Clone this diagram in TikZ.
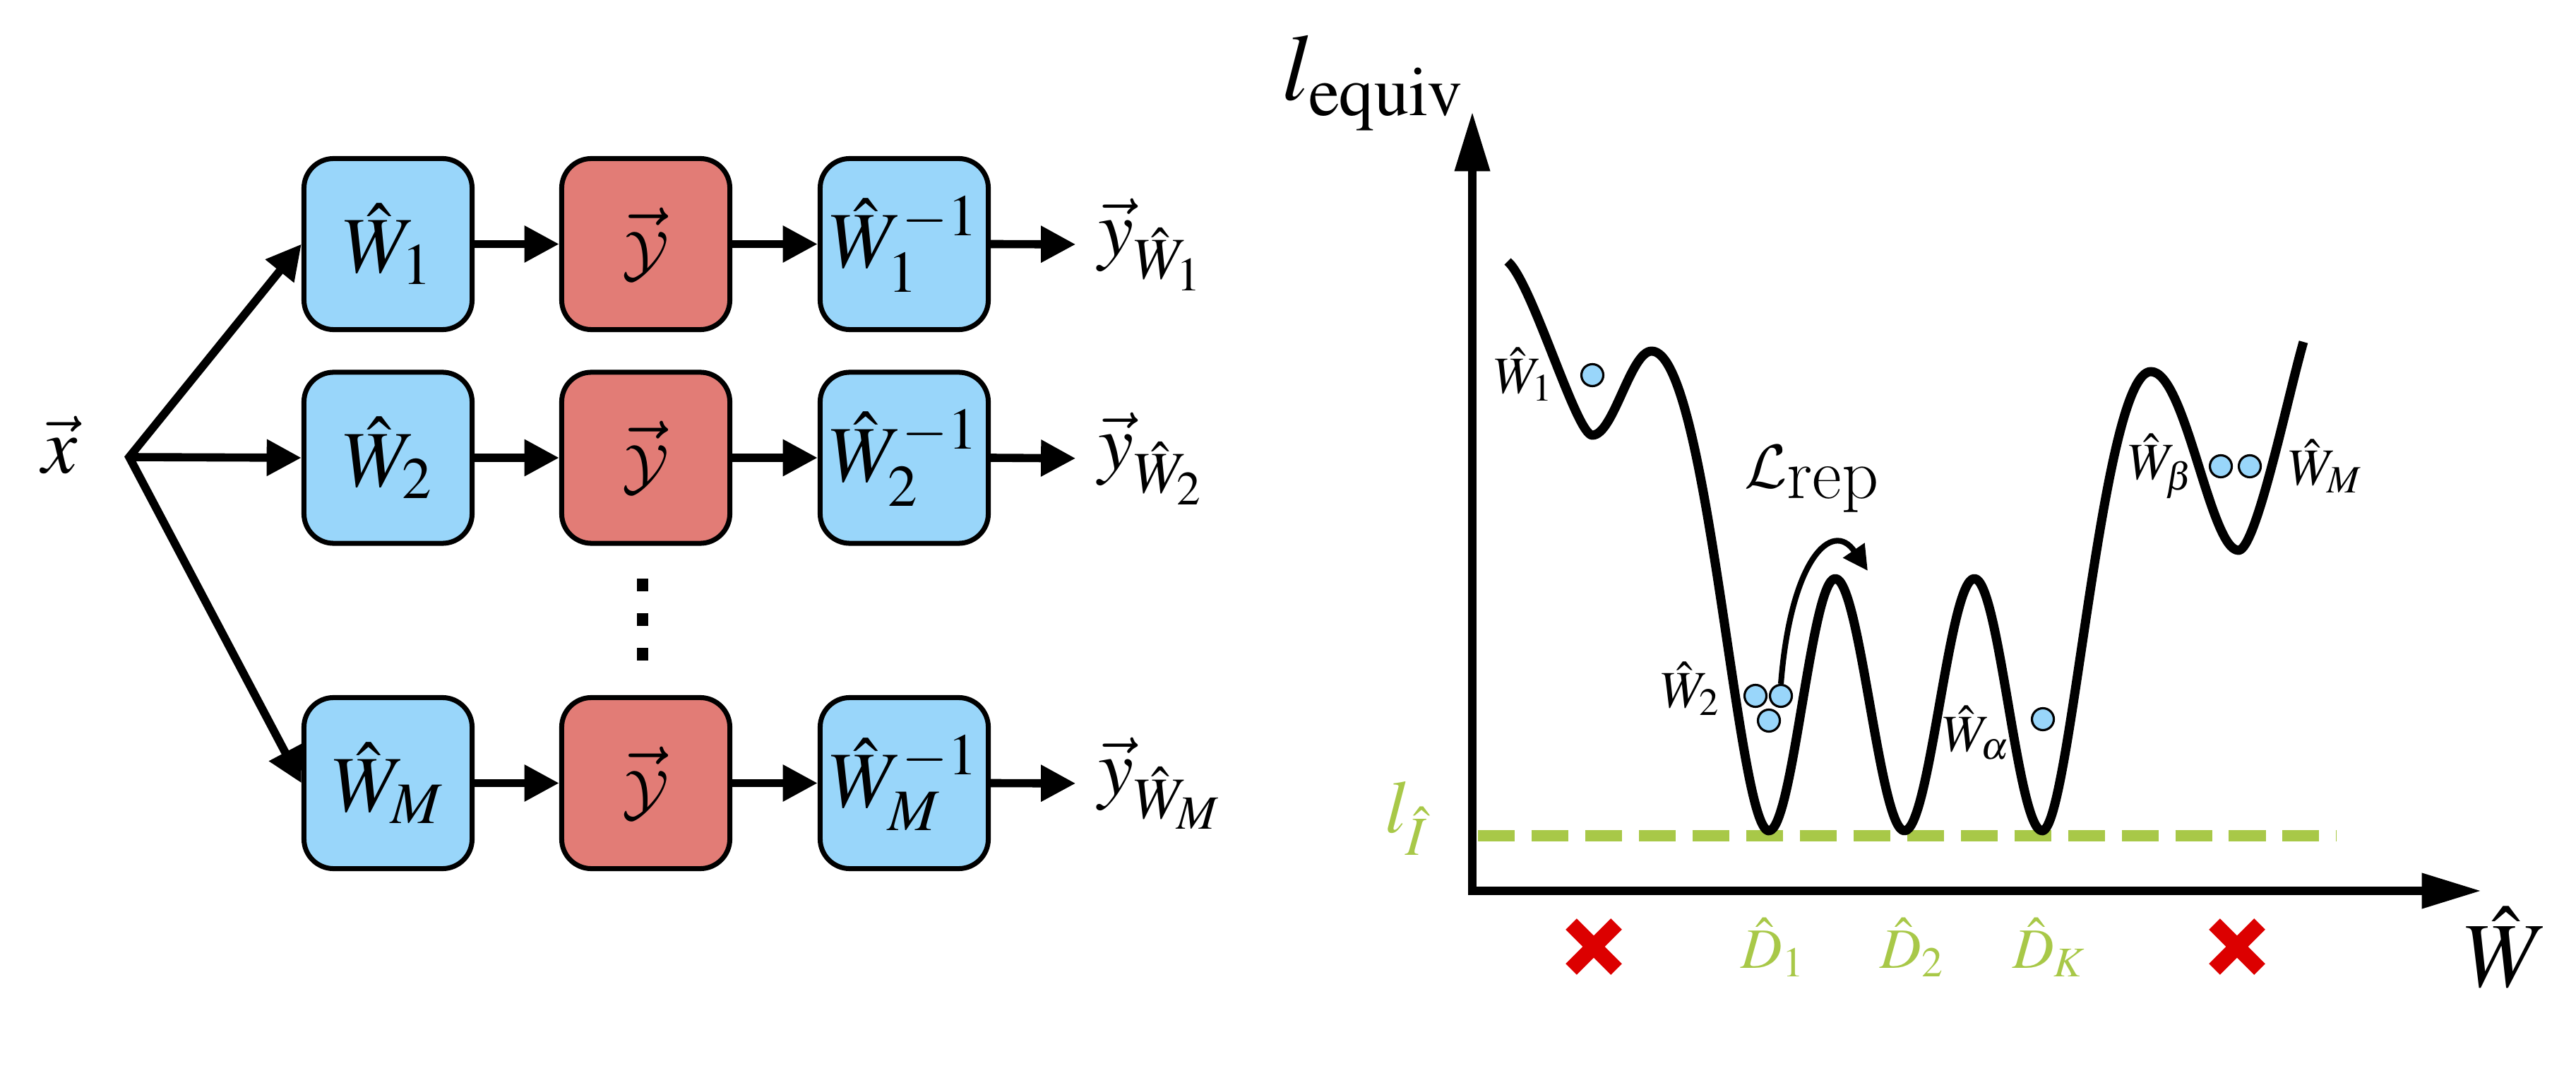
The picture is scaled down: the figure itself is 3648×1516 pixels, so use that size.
\documentclass[tikz,border=0pt]{standalone}
\usepackage{mathptmx}
\DeclareMathAlphabet{\mathcal}{OMS}{lmsy}{m}{n}
\usetikzlibrary{arrows.meta}
\definecolor{boxblue}{RGB}{153,214,250}
\definecolor{boxred}{RGB}{226,124,118}
\definecolor{lgreen}{RGB}{168,200,72}
\definecolor{xred}{RGB}{220,0,0}
\begin{document}
\begin{tikzpicture}[x=0.01cm,y=-0.01cm,
  blk/.style={draw=black, line width=2pt, rounded corners=0.42cm, minimum width=2.38cm, minimum height=2.42cm, inner sep=0pt, font=\fontsize{32}{38}\selectfont},
  bblk/.style={blk, fill=boxblue},
  rblk/.style={blk, fill=boxred, font=\fontsize{36}{42}\selectfont},
  outlbl/.style={anchor=west, inner sep=0pt, font=\fontsize{32}{38}\selectfont},
  flow/.style={line width=3.3pt, -{Triangle[length=14pt,width=14pt]}},
  axisline/.style={line width=3.4pt, line join=miter, {Triangle[length=24pt,width=13.5pt]}-{Triangle[length=24pt,width=13.5pt]}},
  ball/.style={circle, draw=black, line width=0.9pt, fill=boxblue, minimum size=0.31cm, inner sep=0pt},
  lbl/.style={inner sep=0pt, font=\fontsize{21}{25}\selectfont},
  glbl/.style={inner sep=0pt, text=lgreen, font=\fontsize{23}{27}\selectfont},
  landscape/.style={line width=3.7pt, line join=round},
  cross/.style={draw=xred, line width=6.3pt, line cap=butt},
  vdot/.style={fill=black}
]
\useasboundingbox (0,0) rectangle (3648,1516);

% ---------------- left panel ----------------
\node[bblk] (a1) at (549.5,345.5) {$\hat{W}_1$};
\node[rblk] (b1) at (914.5,345.5) {$\vec{\mathcal{Y}}$};
\node[bblk] (c1) at (1280.5,345.5) {$\hat{W}_1^{-1}$};
\node[outlbl] (o1) at (1555,346) {$\vec{y}_{\hat{W}_1}$};

\node[bblk] (a2) at (549.5,648) {$\hat{W}_2$};
\node[rblk] (b2) at (914.5,648) {$\vec{\mathcal{Y}}$};
\node[bblk] (c2) at (1280.5,648) {$\hat{W}_2^{-1}$};
\node[outlbl] (o2) at (1555,649) {$\vec{y}_{\hat{W}_2}$};

\node[bblk] (aM) at (549.5,1108.5) {$\hat{W}_M$};
\node[rblk] (bM) at (914.5,1108.5) {$\vec{\mathcal{Y}}$};
\node[bblk] (cM) at (1280.5,1108.5) {$\hat{W}_M^{-1}$};
\node[outlbl] (oM) at (1555,1109) {$\vec{y}_{\hat{W}_M}$};

\node[inner sep=0pt, font=\fontsize{32}{38}\selectfont] (x) at (85,630) {$\vec{x}$};
\coordinate (fan) at (183,647);

\draw[line width=3.3pt, line join=miter, {Triangle[length=14pt,width=14pt]}-{Triangle[length=14pt,width=14pt]}] (a1.west) -- (fan) -- (aM.west);
\draw[flow] (fan) -- (a2.west);

\foreach \r in {1,2,M}{
  \draw[flow] (a\r.east) -- (b\r.west);
  \draw[flow] (b\r.east) -- (c\r.west);
  \draw[flow, shorten >=9pt] (c\r.east) -- (o\r.west);
}

\fill[vdot] (902,819) rectangle (918,837);
\fill[vdot] (902,868) rectangle (918,886);
\fill[vdot] (902,917) rectangle (918,935);

% ---------------- right panel ----------------
\coordinate (orig) at (2085,1261);
\coordinate (ytip) at (2085,158);
\coordinate (xtip) at (3514,1261);
\draw[axisline] (ytip) -- (orig) -- (xtip);

\node[inner sep=0pt, font=\fontsize{38}{44}\selectfont] (leq) at (1944,117) {$l_{\mathrm{equiv}}$};
\node[inner sep=0pt, font=\fontsize{37}{44}\selectfont] (wax) at (3549,1341) {$\hat{W}$};

\coordinate (dl) at (2093,1183);
\coordinate (dr) at (3309,1183);
\draw[lgreen, line width=4.3pt, dash pattern=on 14.8pt off 6.8pt] (dl) -- (dr);
\node[inner sep=0pt, text=lgreen, font=\fontsize{30}{36}\selectfont] (li) at (1992,1158) {$l_{\hat{I}}$};

\draw[landscape] (2135,370) .. controls (2170,400) and (2232,616) .. (2255,616)
  .. controls (2285,616) and (2309,497) .. (2339,497)
  .. controls (2419,497) and (2460,1176) .. (2505,1176)
  .. controls (2539,1176) and (2565,819) .. (2599,819)
  .. controls (2634,819) and (2662,1176) .. (2697,1176)
  .. controls (2733,1176) and (2760,819) .. (2796,819)
  .. controls (2831,819) and (2857,1176) .. (2892,1176)
  .. controls (2932,1176) and (2976,526) .. (3046,526)
  .. controls (3095,526) and (3130,779) .. (3170,779)
  .. controls (3195,779) and (3240,560) .. (3262,484);

% balls
\node[ball] (w1b) at (2255,531) {};
\node[ball] (w2a) at (2486,985) {};
\node[ball] (w2b) at (2522,985) {};
\node[ball] (w2c) at (2505,1020) {};
\node[ball] (wab) at (2893,1018) {};
\node[ball] (wbb) at (3145,660) {};
\node[ball] (wmb) at (3186,660) {};

% labels
\node[lbl] (lw1) at (2158,530) {$\hat{W}_1$};
\node[lbl] (lw2) at (2394,975) {$\hat{W}_2$};
\node[lbl] (lwa) at (2799,1037) {$\hat{W}_\alpha$};
\node[lbl] (lwb) at (3060,660) {$\hat{W}_\beta$};
\node[lbl] (lwm) at (3293,660) {$\hat{W}_M$};
\node[inner sep=0pt, font=\fontsize{29}{34}\selectfont] (lrep) at (2566,678) {$\mathcal{L}_{\textrm{rep}}$};

\coordinate (repend) at (2645,808);
\draw[line width=2.3pt, -{Triangle[length=10pt,width=10pt]}] (w2b.north) .. controls (2536,790) and (2595,735) .. (repend);

\node[glbl] (d1) at (2511,1341) {$\hat{D}_1$};
\node[glbl] (d2) at (2708,1341) {$\hat{D}_2$};
\node[glbl] (dk) at (2902,1341) {$\hat{D}_K$};

% crosses
\coordinate (c1x) at (2257,1340);
\coordinate (c2x) at (3168,1340);
\draw[cross] ([shift={(-32,-32)}]c1x) -- ([shift={(32,32)}]c1x);
\draw[cross] ([shift={(-32,32)}]c1x) -- ([shift={(32,-32)}]c1x);
\draw[cross] ([shift={(-32,-32)}]c2x) -- ([shift={(32,32)}]c2x);
\draw[cross] ([shift={(-32,32)}]c2x) -- ([shift={(32,-32)}]c2x);
\end{tikzpicture}
\end{document}
